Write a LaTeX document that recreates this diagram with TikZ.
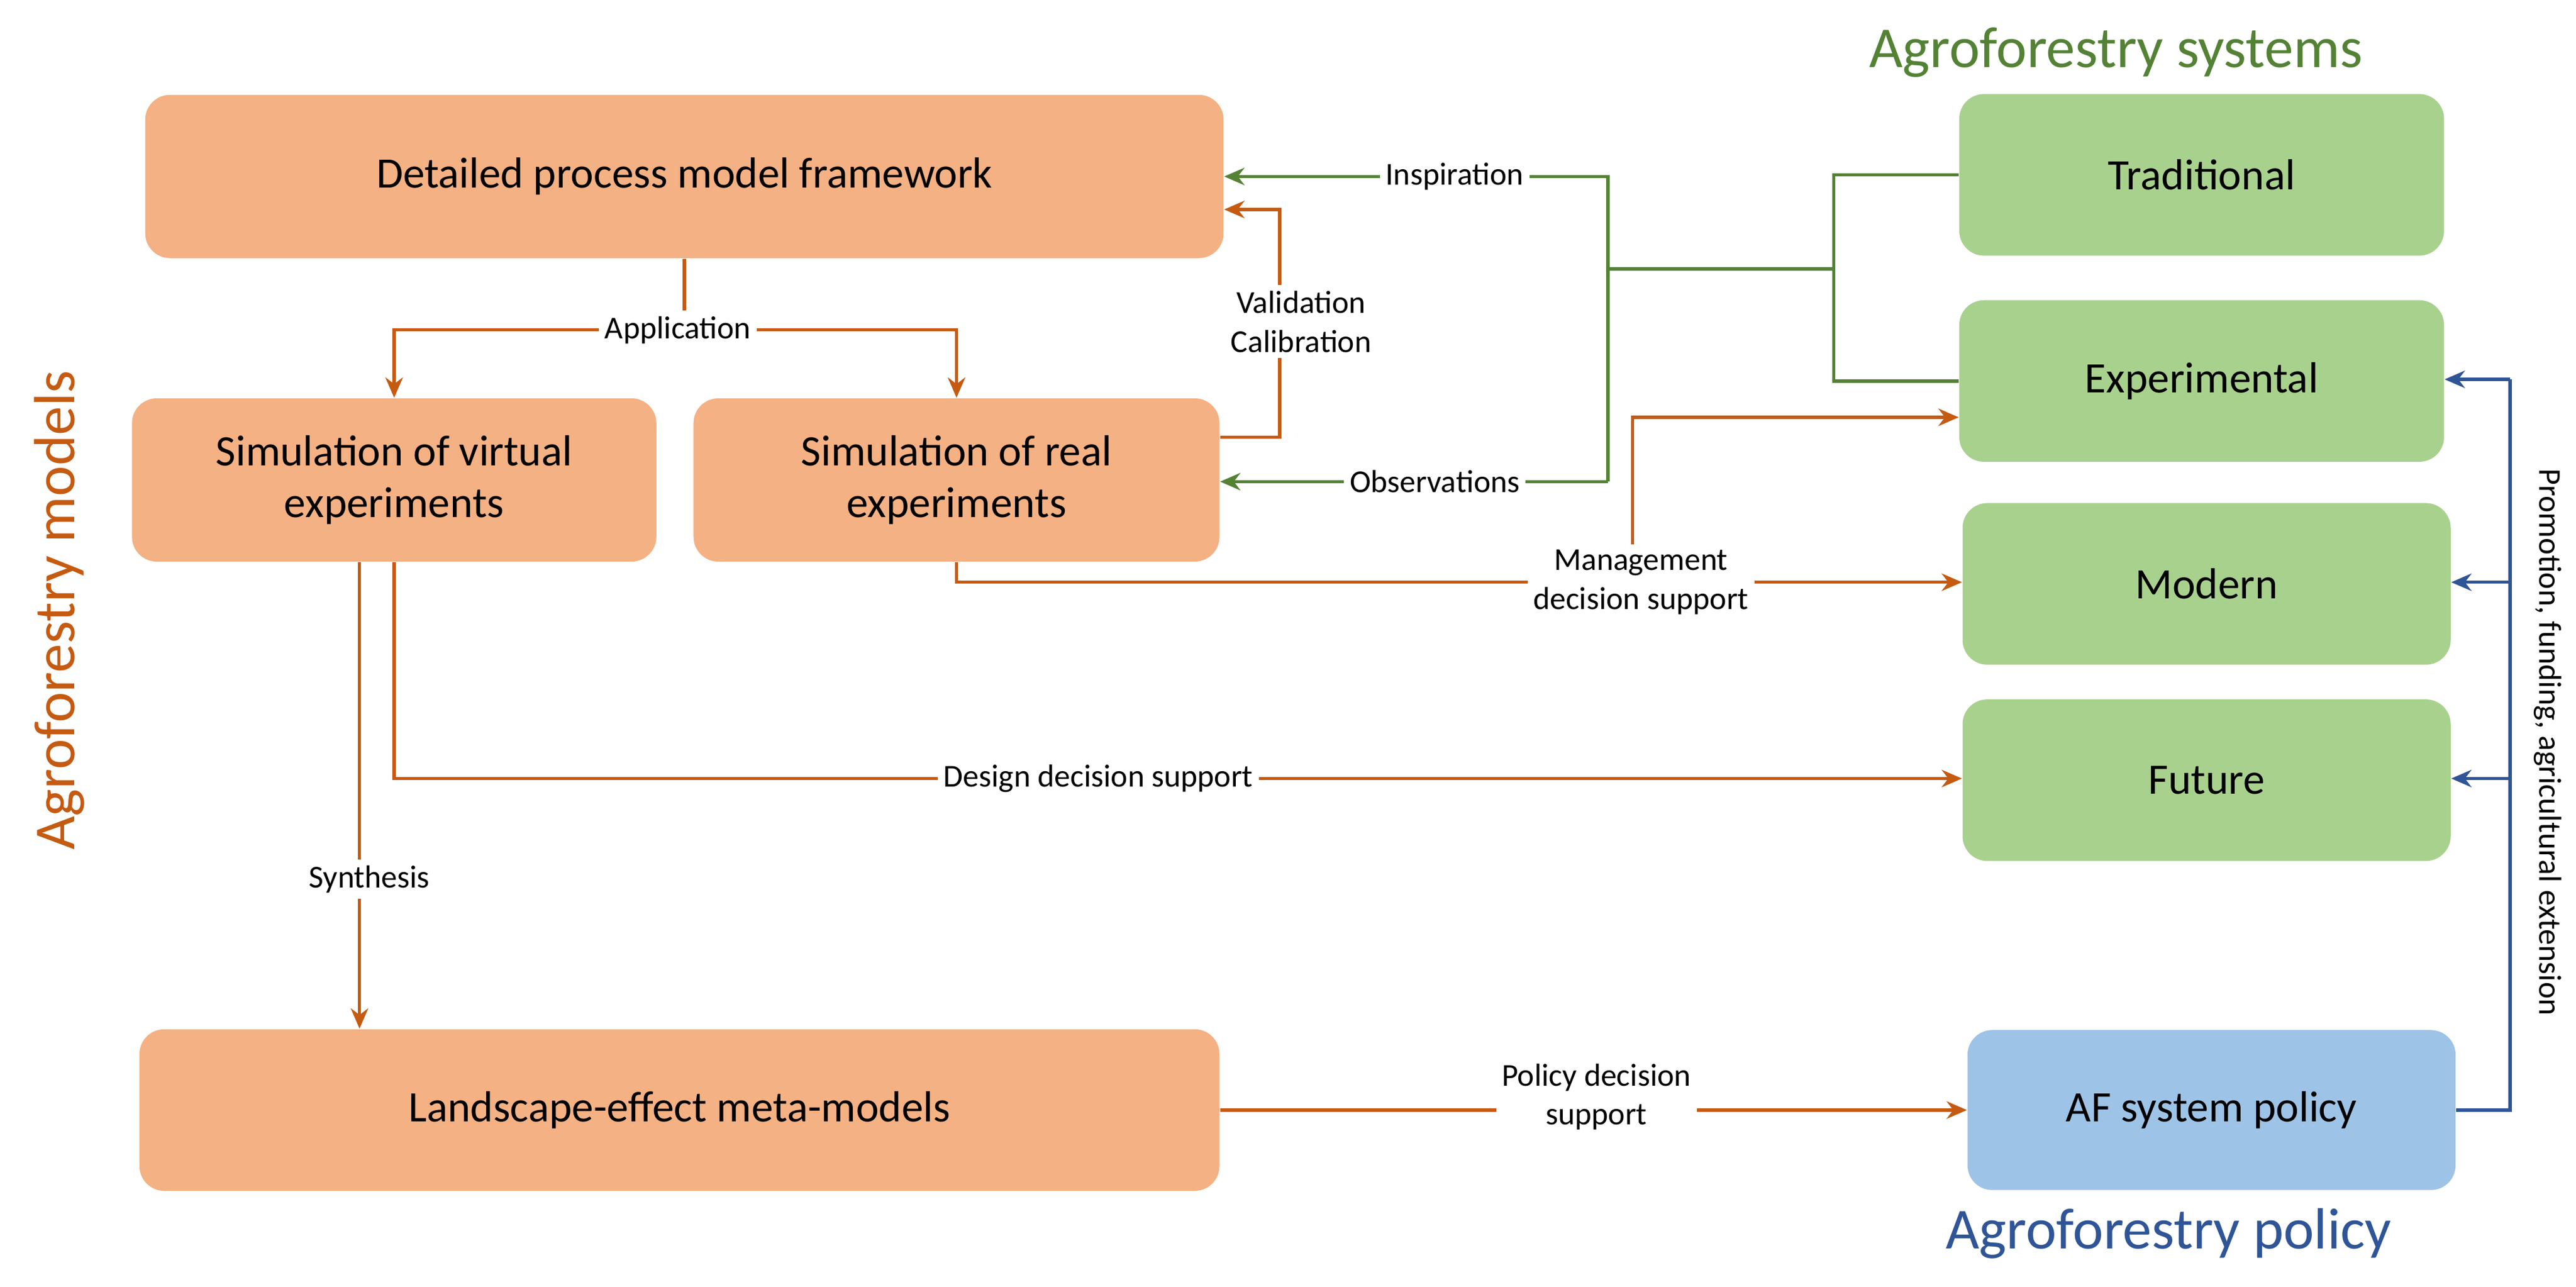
\documentclass[tikz,border=0pt]{standalone}
\usepackage{fontspec}
\setmainfont{Carlito}
\usetikzlibrary{arrows.meta}
\definecolor{of}{HTML}{F4B183}\definecolor{ol}{HTML}{C55A11}
\definecolor{gf}{HTML}{A9D18E}\definecolor{gl}{HTML}{548235}
\definecolor{bf}{HTML}{9DC3E6}\definecolor{bl}{HTML}{2F5597}
\begin{document}
\begin{tikzpicture}[x=0.02cm,y=-0.02cm,
 box/.style={rounded corners=0.3cm,draw=none,align=center,font=\fontsize{15}{18}\selectfont,inner sep=0pt},
 ob/.style={box,fill=of},gb/.style={box,fill=gf},bb/.style={box,fill=bf},
 lab/.style={fill=white,align=center,font=\fontsize{11}{13.5}\selectfont,inner sep=2pt},
 oa/.style={draw=ol,line width=1.1pt,-{Stealth[length=7pt,width=6pt]}},
 ga/.style={draw=gl,line width=1.1pt,-{Stealth[length=7pt,width=6pt]}},
 ba/.style={draw=bl,line width=1.1pt,-{Stealth[length=7pt,width=6pt]}},
 ol/.style={draw=ol,line width=1.1pt},gl/.style={draw=gl,line width=1.1pt},bl/.style={draw=bl,line width=1.1pt}]
\useasboundingbox (0,0) rectangle (1562,780);
\node[ob,minimum width=13.08cm,minimum height=1.98cm] (det) at (415,107) {Detailed process model framework};
\node[ob,minimum width=6.36cm,minimum height=1.98cm] (virt) at (239,291) {Simulation of virtual\\experiments};
\node[ob,minimum width=6.38cm,minimum height=1.98cm] (real) at (580,291) {Simulation of real\\experiments};
\node[ob,minimum width=13.1cm,minimum height=1.96cm] (land) at (412,673) {Landscape-effect meta-models};
\node[gb,minimum width=5.88cm,minimum height=1.96cm] (trad) at (1335,106) {Traditional};
\node[gb,minimum width=5.88cm,minimum height=1.96cm] (exp) at (1335,231) {Experimental};
\node[gb,minimum width=5.92cm,minimum height=1.96cm] (mod) at (1338,354) {Modern};
\node[gb,minimum width=5.92cm,minimum height=1.96cm] (fut) at (1338,473) {Future};
\node[bb,minimum width=5.92cm,minimum height=1.94cm] (pol) at (1341,673) {AF system policy};
\node[text=gl,font=\fontsize{20}{24}\selectfont] (t1) at (1283,32) {Agroforestry systems};
\node[text=bl,font=\fontsize{20}{24}\selectfont] (t2) at (1315,748) {Agroforestry policy};
\node[text=ol,font=\fontsize{20}{24}\selectfont,rotate=90] (t3) at (36,370) {Agroforestry models};
% application
\coordinate (ap) at (415,200);
\draw[ol] (det.south -| ap) -- (ap);
\draw[oa] (ap) -| (virt.north);
\draw[oa] (ap) -| (real.north);
\node[lab] (apl) at (411,200) {Application};
% validation
\coordinate (v1) at (776,265);
\draw[oa] (real.east |- v1) -- (v1) |- (det.east |- 0,127);
\node[lab] (vl) at (789,195) {Validation\\Calibration};
% green
\coordinate (j1) at (1112,163);\coordinate (j2) at (975,163);
\draw[gl] (trad.west) -- (trad.west -| j1) -- (j1);
\draw[gl] (j1) |- (exp.west);
\draw[gl] (j1) -- (j2);
\coordinate (gt) at (975,107);\coordinate (gb) at (975,292);
\draw[ga] (gt |- gb) -- (gt) -- (det.east |- gt);
\draw[ga] (gb) -- (real.east |- gb);
\node[lab] (insp) at (882,107) {Inspiration};
\node[lab] (obs) at (870,292) {Observations};
% management
\coordinate (m1) at (580,353);
\draw[oa] (real.south) -- (m1) -- (mod.west |- m1);
\coordinate (m2) at (990,253);
\draw[oa] (990,340) -- (m2) -- (exp.west |- m2);
\node[lab] (ml) at (995,353) {Management\\decision support};
% design
\coordinate (d1) at (239,472);
\draw[oa] (virt.south -| d1) -- (d1) -- (fut.west |- d1);
\node[lab] (dl) at (666,472) {Design decision support};
% synthesis
\draw[oa] (218,341) -- (land.north -| 218,0);
\node[lab] (sl) at (224,533) {Synthesis};
% policy
\draw[oa] (land.east) -- (pol.west);
\node[lab] (pl) at (968,665) {Policy decision\\support};
% blue
\coordinate (b1) at (1522,673);\coordinate (b2) at (1522,230);
\draw[bl] (pol.east) -- (b1) -- (b2);
\draw[ba] (b2) -- (exp.east |- b2);
\draw[ba] (1522,353) -- (mod.east |- 0,353);
\draw[ba] (1522,472) -- (fut.east |- 0,472);
\node[font=\fontsize{11}{13.5}\selectfont,rotate=-90,fill=white,inner sep=2pt] (bl) at (1545,450) {Promotion, funding, agricultural extension};
\end{tikzpicture}
\end{document}
